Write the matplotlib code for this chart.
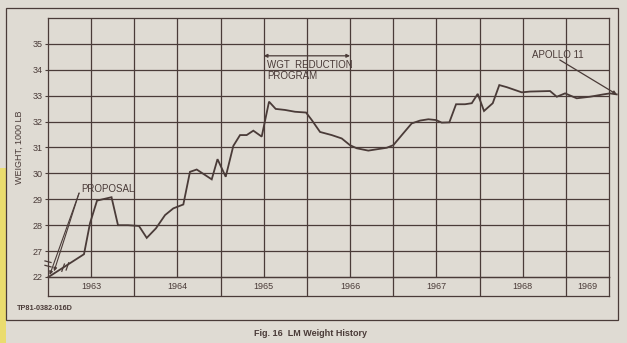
import numpy as np
import matplotlib

matplotlib.use("Agg")

import matplotlib.pyplot as plt  # noqa: E402
from matplotlib.patches import Rectangle  # noqa: E402

plt.rcParams["font.family"] = ["Liberation Sans", "DejaVu Sans"]

# LM weight history, thousand lb, by decimal year
dates = [
    1963.006, 1963.417, 1963.487, 1963.568, 1963.736, 1963.811, 1963.927, 1964.054,
    1964.144, 1964.251, 1964.356, 1964.452, 1964.568, 1964.645, 1964.723, 1964.897,
    1964.964, 1965.059, 1965.147, 1965.225, 1965.302, 1965.379, 1965.476, 1965.561,
    1965.638, 1965.746, 1965.862, 1965.990, 1966.056, 1966.152, 1966.287, 1966.403,
    1966.499, 1966.577, 1966.711, 1966.827, 1966.925, 1967.001, 1967.117, 1967.214,
    1967.311, 1967.407, 1967.496, 1967.562, 1967.650, 1967.728, 1967.832, 1967.910,
    1967.979, 1968.052, 1968.153, 1968.229, 1968.315, 1968.489, 1968.585, 1968.817,
    1968.895, 1968.991, 1969.126, 1969.280, 1969.434, 1969.512, 1969.590,
]
weights = [
    22.00, 26.40, 28.08, 28.95, 29.08, 28.00, 28.00, 27.97,
    27.51, 27.88, 28.39, 28.65, 28.80, 30.06, 30.15, 29.77,
    30.55, 29.87, 31.06, 31.48, 31.48, 31.65, 31.42, 32.77,
    32.49, 32.45, 32.38, 32.35, 32.06, 31.60, 31.48, 31.35,
    31.09, 30.97, 30.88, 30.94, 30.99, 31.09, 31.55, 31.93,
    32.04, 32.09, 32.06, 31.96, 31.97, 32.67, 32.67, 32.71,
    33.07, 32.41, 32.71, 33.41, 33.33, 33.13, 33.16, 33.18,
    32.96, 33.09, 32.90, 32.96, 33.05, 33.09, 33.05,
]
years = [1963, 1964, 1965, 1966, 1967, 1968, 1969]
weight_ticks = [22, 27, 28, 29, 30, 31, 32, 33, 34, 35]

BG = "#dfdbd3"
INK = "#4a3b38"
W, H = 627, 343


def to_display(w):
    # the axis is broken between 22 and 27: that span is squeezed into one unit
    w = np.asarray(w, dtype=float)
    return np.where(w >= 27, w, 26 + (w - 22) / 5)


def fig_rect(x0, y0, x1, y1):
    return [x0 / W, 1 - y1 / H, (x1 - x0) / W, (y1 - y0) / H]


fig = plt.figure(figsize=(W / 100, H / 100), dpi=100, facecolor=BG)

# left-edge highlighter smear
fig.add_artist(Rectangle((0, 0), 6 / W, 1 - 168 / H, transform=fig.transFigure,
                         facecolor="#eadc6e", edgecolor="none"))

fig.add_artist(Rectangle((6 / W, 1 - 320 / H), 612 / W, 312 / H,
                         transform=fig.transFigure, fill=False,
                         edgecolor=INK, linewidth=0.9))

ax = fig.add_axes(fig_rect(48, 18, 609, 277))
ax.set_facecolor("none")
ax.set_xlim(years[0], years[-1] + 0.5)
ax.set_ylim(26, 36)

for x in np.arange(years[0] + 0.5, years[-1] + 0.5, 0.5):
    ax.axvline(x, color=INK, linewidth=0.9, zorder=1)
for y in weight_ticks[1:] :
    ax.axhline(y, color=INK, linewidth=0.9, zorder=1)
for sp in ax.spines.values():
    sp.set_color(INK)
    sp.set_linewidth(0.9)

ax.set_xticks([])
ax.set_yticks(to_display(weight_ticks))
ax.set_yticklabels([str(t) for t in weight_ticks], fontsize=6.5, color=INK)
ax.tick_params(axis="y", length=2, width=0.8, color=INK, pad=2)
ax.set_ylabel("WEIGHT, 1000 LB", fontsize=6.5, color=INK, labelpad=6)

ax.plot(dates, to_display(weights), color=INK, linewidth=1.3, zorder=3,
        clip_on=False, solid_joinstyle="miter")

# break marks on the axis and on the curve
for y0 in (26.45, 26.62):
    ax.plot([years[0] - 0.035, years[0] + 0.035], [y0, y0 - 0.06], color=INK,
            linewidth=0.9, clip_on=False, zorder=4)
for x0 in (1963.17, 1963.22):
    ax.plot([x0 - 0.01, x0 + 0.02], [26.22 + (x0 - 1963.17) * 1.0, 26.5 + (x0 - 1963.17) * 1.0],
            color=INK, linewidth=0.9, zorder=4)

# annotations
ax.text(1963.39, 29.39, "PROPOSAL", fontsize=7, color=INK, va="center", ha="left")
for tip in ((1963.02, 26.08), (1963.07, 26.22)):
    ax.annotate("", xy=tip, xytext=(1963.36, 29.24),
                arrowprops=dict(arrowstyle="-|>", color=INK, lw=0.8,
                                mutation_scale=5, shrinkA=0, shrinkB=0))

ax.annotate("", xy=(1965.5, 34.54), xytext=(1966.5, 34.54),
            arrowprops=dict(arrowstyle="<|-|>", color=INK, lw=0.9,
                            mutation_scale=5, shrinkA=0, shrinkB=0))
ax.text(1965.54, 34.19, "WGT  REDUCTION", fontsize=7, color=INK, va="center")
ax.text(1965.54, 33.76, "PROGRAM", fontsize=7, color=INK, va="center")

ax.text(1968.61, 34.57, "APOLLO 11", fontsize=7, color=INK, va="center")
ax.annotate("", xy=(dates[-1], to_display(weights[-1])), xytext=(1968.93, 34.38),
            arrowprops=dict(arrowstyle="-|>", color=INK, lw=0.9,
                            mutation_scale=5, shrinkA=0, shrinkB=0),
            annotation_clip=False)

# year strip under the grid
yax = fig.add_axes(fig_rect(48, 277, 609, 296))
yax.set_facecolor("none")
yax.set_xlim(years[0], years[-1] + 0.5)
yax.set_ylim(0, 1)
yax.set_xticks([])
yax.set_yticks([])
for sp in yax.spines.values():
    sp.set_color(INK)
    sp.set_linewidth(0.9)
for i, yr in enumerate(years):
    if i > 0:
        yax.axvline(yr, color=INK, linewidth=0.9)
    centre = yr + (0.25 if yr == years[-1] else 0.5)
    yax.text(centre, 0.48, str(yr), fontsize=6.5, color=INK, ha="center", va="center")

fig.text(17 / W, 1 - 309 / H, "TP81-0382-016D", fontsize=5.2, color=INK,
         va="center", fontweight="bold")
fig.text(310 / W, 1 - 334 / H, "Fig. 16  LM Weight History", fontsize=6.5,
         color=INK, ha="center", va="center", fontweight="bold")

fig.savefig("out.png", dpi=100, facecolor=BG)
